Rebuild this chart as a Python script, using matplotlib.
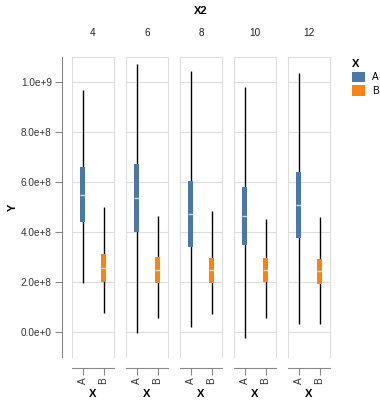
import numpy as np
import matplotlib
matplotlib.use("Agg")
import matplotlib.pyplot as plt
from matplotlib.patches import Patch

plt.rcParams['font.family'] = ['Liberation Sans', 'DejaVu Sans']

# facet levels and groups
facets = ["4", "6", "8", "10", "12"]
groups = ["A", "B"]

# box stats, per facet: [A, B]
whisk_lo = [[1.95e8, 0.77e8], [-0.05e8, 0.57e8], [0.19e8, 0.71e8], [-0.25e8, 0.57e8], [0.31e8, 0.33e8]]
q1 = [[4.41e8, 2.01e8], [4.00e8, 1.97e8], [3.41e8, 1.96e8], [3.47e8, 1.99e8], [3.75e8, 1.93e8]]
med = [[5.48e8, 2.56e8], [5.35e8, 2.49e8], [4.72e8, 2.47e8], [4.64e8, 2.49e8], [5.09e8, 2.44e8]]
q3 = [[6.60e8, 3.12e8], [6.72e8, 2.99e8], [6.03e8, 2.97e8], [5.80e8, 2.96e8], [6.40e8, 2.93e8]]
whisk_hi = [[9.70e8, 5.01e8], [10.73e8, 4.65e8], [10.44e8, 4.84e8], [9.79e8, 4.53e8], [10.36e8, 4.59e8]]

colors = ["#4c78a8", "#f58518"]
yticks = [0, 2e8, 4e8, 6e8, 8e8, 1e9]
ytick_labels = ["0.0e+0", "2.0e+8", "4.0e+8", "6.0e+8", "8.0e+8", "1.0e+9"]

W, H = 380, 405
fig = plt.figure(figsize=(W / 100, H / 100), dpi=100)

lefts = [72, 126, 180, 234, 288]
pw, top, bot = 42, 57, 357
grid_c = "#dddddd"
axis_c = "#888888"
fs = 7.2

for i, f in enumerate(facets):
    ax = fig.add_axes([lefts[i] / W, 1 - bot / H, pw / W, (bot - top) / H])
    ax.set_ylim(-1e8, 1.1e9)
    ax.set_xlim(-0.5, 1.5)
    x = np.arange(len(groups))
    for j in range(len(groups)):
        ax.vlines(x[j], whisk_lo[i][j], whisk_hi[i][j], color="black", lw=1, zorder=2)
        ax.bar(x[j], q3[i][j] - q1[i][j], bottom=q1[i][j], width=0.24,
               color=colors[j], zorder=3)
        ax.hlines(med[i][j], x[j] - 0.12, x[j] + 0.12, color="white", alpha=0.7, lw=1, zorder=4)
    ax.set_yticks(yticks)
    ax.yaxis.grid(True, color=grid_c, lw=0.8)
    ax.set_axisbelow(True)
    for s in ["top", "right", "left"]:
        ax.spines[s].set_color(grid_c)
    ax.spines["bottom"].set_visible(False)
    ax.tick_params(axis="y", left=False, labelleft=False)
    ax.set_xticks([])
    # x axis below panel
    axx = ax.secondary_xaxis(-11 / (bot - top))
    axx.set_xticks(x)
    axx.set_xticklabels(groups, rotation=90, fontsize=fs, color="#333333")
    axx.spines["bottom"].set_color(axis_c)
    axx.tick_params(axis="x", color=axis_c, length=5, pad=2)
    axx.set_xlabel("X", fontsize=8, fontweight="bold", labelpad=3)
    ax.set_title(f, fontsize=fs, pad=15, color="#222222")
    if i == 0:
        axy = ax.secondary_yaxis(-10.5 / pw)
        axy.set_yticks(yticks)
        axy.set_yticklabels(ytick_labels, fontsize=fs, color="#333333")
        axy.spines["left"].set_color(axis_c)
        axy.tick_params(axis="y", color=axis_c, length=5, pad=2)
        axy.set_ylabel("Y", fontsize=8, fontweight="bold", labelpad=2)

fig.text(201 / W, 1 - 11 / H, "X2", ha="center", va="center", fontsize=8, fontweight="bold")

handles = [Patch(facecolor=c, label=g) for c, g in zip(colors, groups)]
leg = fig.legend(handles=handles, title="X", loc="upper left",
                 bbox_to_anchor=(343 / W, 1 - 50 / H), frameon=False,
                 fontsize=fs, title_fontproperties={"weight": "bold", "size": 8},
                 handlelength=1.3, handleheight=1.3, handletextpad=0.7,
                 labelspacing=0.25, alignment="left")

fig.savefig("out.png", dpi=100)
